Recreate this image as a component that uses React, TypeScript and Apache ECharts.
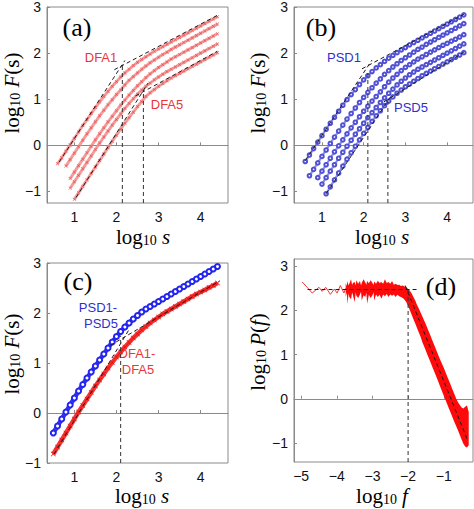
import React, { useEffect, useRef } from 'react';
import * as echarts from 'echarts';

// log10 s grid shared by every fluctuation curve
const logS = [
  0.5, 0.6, 0.7, 0.8, 0.9, 1.0, 1.1, 1.2, 1.3, 1.4, 1.5, 1.6, 1.7, 1.8, 1.9, 2.0, 2.1, 2.2, 2.3, 2.4,
  2.5, 2.6, 2.7, 2.8, 2.9, 3.0, 3.1, 3.2, 3.3, 3.4, 3.5, 3.6, 3.7, 3.8, 3.9, 4.0, 4.1, 4.2, 4.3, 4.4,
];

// (a) DFA1 ... DFA5
const dfa1 = [null, -0.40, -0.27, -0.13, 0.01, 0.15, 0.29, 0.43, 0.56, 0.69, 0.82, 0.94, 1.06, 1.17, 1.28, 1.38, 1.48, 1.57, 1.65, 1.73, 1.80, 1.86, 1.92, 1.98, 2.04, 2.09, 2.14, 2.19, 2.24, 2.29, 2.34, 2.39, 2.44, 2.49, 2.54, 2.59, 2.64, 2.69, 2.74, 2.79];
const dfa2 = [null, null, null, -0.45, -0.31, -0.17, -0.03, 0.11, 0.25, 0.38, 0.51, 0.64, 0.76, 0.88, 0.99, 1.10, 1.20, 1.31, 1.41, 1.49, 1.57, 1.65, 1.72, 1.79, 1.85, 1.91, 1.97, 2.02, 2.08, 2.13, 2.18, 2.23, 2.28, 2.33, 2.38, 2.43, 2.48, 2.53, 2.58, 2.63];
const dfa3 = [null, null, null, null, -0.72, -0.58, -0.44, -0.30, -0.16, -0.02, 0.12, 0.25, 0.38, 0.51, 0.63, 0.75, 0.87, 0.98, 1.09, 1.19, 1.29, 1.38, 1.47, 1.55, 1.62, 1.69, 1.75, 1.81, 1.87, 1.92, 1.97, 2.02, 2.07, 2.12, 2.17, 2.22, 2.27, 2.32, 2.37, 2.42];
const dfa4 = [null, null, null, null, -0.93, -0.79, -0.65, -0.51, -0.37, -0.23, -0.09, 0.05, 0.18, 0.31, 0.44, 0.56, 0.68, 0.80, 0.91, 1.01, 1.11, 1.20, 1.28, 1.35, 1.42, 1.48, 1.54, 1.60, 1.65, 1.70, 1.75, 1.80, 1.85, 1.90, 1.95, 2.00, 2.05, 2.10, 2.15, 2.20];
const dfa5 = [null, null, null, null, null, -1.17, -1.03, -0.89, -0.75, -0.61, -0.47, -0.33, -0.19, -0.05, 0.09, 0.22, 0.35, 0.48, 0.60, 0.72, 0.84, 0.95, 1.06, 1.14, 1.21, 1.28, 1.34, 1.40, 1.46, 1.51, 1.56, 1.61, 1.66, 1.71, 1.76, 1.81, 1.86, 1.91, 1.96, 2.01];

// (b) PSD1 ... PSD5
const psd1 = [null, -0.35, -0.21, -0.07, 0.07, 0.21, 0.35, 0.48, 0.61, 0.74, 0.87, 0.99, 1.10, 1.21, 1.32, 1.42, 1.51, 1.60, 1.68, 1.75, 1.82, 1.89, 1.95, 2.01, 2.07, 2.12, 2.18, 2.23, 2.28, 2.33, 2.38, 2.43, 2.48, 2.53, 2.58, 2.63, 2.68, 2.73, 2.78, 2.83];
const psd2 = [null, null, -0.66, -0.52, -0.38, -0.24, -0.10, 0.04, 0.18, 0.31, 0.44, 0.57, 0.69, 0.81, 0.93, 1.04, 1.15, 1.25, 1.35, 1.44, 1.54, 1.62, 1.70, 1.77, 1.84, 1.90, 1.96, 2.02, 2.08, 2.13, 2.19, 2.24, 2.29, 2.34, 2.39, 2.44, 2.49, 2.54, 2.59, 2.64];
const psd3 = [null, null, null, null, -0.70, -0.56, -0.42, -0.28, -0.14, -0.01, 0.12, 0.25, 0.38, 0.50, 0.62, 0.74, 0.85, 0.96, 1.06, 1.16, 1.27, 1.37, 1.46, 1.54, 1.62, 1.69, 1.75, 1.81, 1.87, 1.92, 1.97, 2.02, 2.07, 2.12, 2.17, 2.21, 2.26, 2.30, 2.35, 2.40];
const psd4 = [null, null, null, null, null, -0.84, -0.70, -0.56, -0.42, -0.28, -0.15, -0.02, 0.11, 0.24, 0.36, 0.48, 0.60, 0.71, 0.82, 0.93, 1.03, 1.13, 1.22, 1.31, 1.39, 1.46, 1.53, 1.59, 1.65, 1.70, 1.75, 1.80, 1.85, 1.90, 1.95, 2.00, 2.05, 2.10, 2.15, 2.20];
const psd5 = [null, null, null, null, null, null, -1.05, -0.90, -0.75, -0.60, -0.45, -0.30, -0.16, -0.02, 0.12, 0.26, 0.39, 0.52, 0.64, 0.75, 0.86, 0.96, 1.05, 1.13, 1.20, 1.27, 1.33, 1.39, 1.45, 1.51, 1.56, 1.61, 1.66, 1.71, 1.76, 1.81, 1.86, 1.91, 1.96, 2.01];

// (c) all five PSD curves and all five DFA curves collapsed
const psdAll = [-0.40, -0.26, -0.12, 0.02, 0.16, 0.30, 0.44, 0.57, 0.70, 0.82, 0.94, 1.06, 1.18, 1.30, 1.42, 1.53, 1.63, 1.72, 1.80, 1.88, 1.95, 2.02, 2.08, 2.13, 2.18, 2.23, 2.28, 2.33, 2.38, 2.43, 2.48, 2.53, 2.58, 2.63, 2.68, 2.73, 2.78, 2.83, 2.88, 2.93];
const dfaAll = [-0.82, -0.68, -0.54, -0.40, -0.26, -0.12, 0.02, 0.15, 0.28, 0.41, 0.54, 0.66, 0.78, 0.90, 1.01, 1.12, 1.22, 1.32, 1.41, 1.50, 1.58, 1.66, 1.73, 1.80, 1.86, 1.92, 1.98, 2.03, 2.08, 2.13, 2.18, 2.23, 2.28, 2.33, 2.38, 2.42, 2.46, 2.51, 2.55, 2.60];

// straight-line fits (endpoints) and crossover markers
const dfa1FitLeft = [[0.64, -0.36], [2.2, 1.84]];
const dfa1FitRight = [[1.95, 1.64], [4.4, 2.82]];
const dfa5FitLeft = [[1.04, -1.13], [2.75, 1.35]];
const dfa5FitRight = [[2.45, 1.07], [4.4, 2.04]];
const dfaCross = [[2.14, 1.75], [2.64, 1.2]];

const psd1FitLeft = [[0.6, -0.33], [2.2, 1.85]];
const psd1FitRight = [[1.96, 1.66], [4.4, 2.84]];
const psd5FitLeft = [[1.1, -1.05], [2.64, 1.05]];
const psd5FitRight = [[2.48, 0.94], [4.4, 2.02]];
const psdCross = [[2.1, 1.6], [2.58, 1.0]];

const allFitLeft = [[0.52, -0.82], [2.3, 1.67]];
const allFitRight = [[1.85, 1.35], [4.45, 2.64]];
const allCross = [[2.1, 1.55]];

// (d) power spectrum: sparse low-frequency points, then [log f, low, high] envelope
const spectrumLow = [
  [-4.97, 2.64], [-4.83, 2.52], [-4.69, 2.39], [-4.5, 2.52], [-4.41, 2.43], [-4.31, 2.52],
  [-4.18, 2.36], [-4.07, 2.48], [-3.99, 2.39], [-3.9, 2.56], [-3.8, 2.39], [-3.75, 2.5],
];
const spectrumBand = [
  [-3.75, 2.30, 2.62], [-3.72, 2.40, 2.55], [-3.70, 2.14, 2.66], [-3.67, 2.38, 2.56], [-3.65, 2.30, 2.60],
  [-3.60, 2.25, 2.70], [-3.57, 2.40, 2.57], [-3.55, 2.35, 2.62], [-3.50, 2.18, 2.64], [-3.47, 2.40, 2.56],
  [-3.45, 2.33, 2.68], [-3.40, 2.28, 2.60], [-3.35, 2.36, 2.66], [-3.32, 2.42, 2.56], [-3.30, 2.22, 2.62],
  [-3.25, 2.34, 2.70], [-3.20, 2.30, 2.63], [-3.17, 2.40, 2.58], [-3.15, 2.15, 2.66], [-3.10, 2.35, 2.61],
  [-3.05, 2.28, 2.68], [-3.00, 2.34, 2.62], [-2.97, 2.41, 2.57], [-2.95, 2.22, 2.65], [-2.90, 2.36, 2.60],
  [-2.85, 2.30, 2.67], [-2.80, 2.35, 2.62], [-2.75, 2.26, 2.64], [-2.70, 2.36, 2.60], [-2.65, 2.32, 2.70],
  [-2.60, 2.37, 2.62], [-2.55, 2.30, 2.64], [-2.50, 2.36, 2.60], [-2.45, 2.33, 2.66], [-2.40, 2.36, 2.58],
  [-2.35, 2.30, 2.60], [-2.30, 2.35, 2.57], [-2.25, 2.32, 2.58], [-2.20, 2.30, 2.55], [-2.15, 2.28, 2.56],
  [-2.10, 2.24, 2.54], [-2.05, 2.18, 2.52], [-2.00, 2.10, 2.48], [-1.95, 2.00, 2.44], [-1.90, 1.90, 2.38],
  [-1.85, 1.80, 2.30], [-1.80, 1.70, 2.22], [-1.75, 1.60, 2.12], [-1.70, 1.50, 2.04], [-1.65, 1.40, 1.95],
  [-1.60, 1.28, 1.86], [-1.55, 1.18, 1.77], [-1.50, 1.08, 1.68], [-1.45, 0.98, 1.58], [-1.40, 0.88, 1.48],
  [-1.35, 0.78, 1.38], [-1.30, 0.68, 1.28], [-1.25, 0.58, 1.18], [-1.20, 0.48, 1.08], [-1.15, 0.38, 0.98],
  [-1.10, 0.27, 0.88], [-1.05, 0.17, 0.79], [-1.00, 0.07, 0.70], [-0.95, -0.03, 0.60], [-0.90, -0.13, 0.50],
  [-0.85, -0.23, 0.40], [-0.80, -0.33, 0.30], [-0.75, -0.43, 0.20], [-0.70, -0.53, 0.10], [-0.65, -0.62, 0.00],
  [-0.60, -0.72, -0.08], [-0.55, -0.82, -0.14], [-0.50, -0.92, -0.20], [-0.45, -1.02, -0.22], [-0.40, -1.08, -0.18],
  [-0.35, -1.10, -0.15], [-0.30, -1.05, -0.30],
];
const spectrumFitFlat = [[-4.82, 2.47], [-1.7, 2.47]];
const spectrumFitSlope = [[-2.08, 2.56], [-0.35, -0.9]];
const spectrumCross = [[-2.0, 2.47]];

// axis ranges and tick values
const sTicks = [1, 2, 3, 4];
const fTicks = [-5, -4, -3, -2, -1];
const yTicks = [-1, 0, 1, 2, 3];
const rangeA = { x: [0.35, 4.65], y: [-1.25, 3] };
const rangeB = { x: [0.33, 4.62], y: [-1.25, 3] };
const rangeC = { x: [0.35, 4.65], y: [-1, 3] };
const rangeD = { x: [-5.2, -0.18], y: [-1.43, 3.16] };

const SANS = '"Liberation Sans", Arial, sans-serif';
const SERIF = '"Liberation Serif", "Times New Roman", serif';
const AXIS_GRAY = '#8a8a8a';
const CROSS = 'path://M1,0L5,4L9,0L10,1L6,5L10,9L9,10L5,6L1,10L0,9L4,5L0,1Z';

const pairs = (xs: number[], ys: (number | null)[]) =>
  xs.map((x, i) => (ys[i] == null ? null : [x, ys[i]])).filter(Boolean);

const tickFormatter = (v: number) => String(v).replace('-', '\u2212');

function makeXAxis(gi: number, r: number[], ticks: number[]) {
  return {
    type: 'value', gridIndex: gi, min: r[0], max: r[1],
    axisLine: { show: true, lineStyle: { color: AXIS_GRAY, width: 1 } },
    axisTick: { show: true, inside: true, length: 3, customValues: ticks, lineStyle: { color: AXIS_GRAY } },
    axisLabel: {
      show: true, customValues: ticks, margin: 7, fontFamily: SANS, fontSize: 14, color: '#111',
      formatter: tickFormatter,
    },
    splitLine: { show: false },
  };
}
function makeYAxis(gi: number, r: number[], ticks: number[]) {
  return {
    type: 'value', gridIndex: gi, min: r[0], max: r[1],
    axisLine: { show: true, lineStyle: { color: AXIS_GRAY, width: 1 } },
    axisTick: { show: true, inside: true, length: 3, customValues: ticks, lineStyle: { color: AXIS_GRAY } },
    axisLabel: {
      show: true, customValues: ticks, margin: 6, fontFamily: SANS, fontSize: 14, color: '#111',
      formatter: tickFormatter,
    },
    splitLine: { show: false },
  };
}

function crossSeries(gi: number, ys: (number | null)[], mark: string, line: string, size: number, width: number) {
  return {
    type: 'line', xAxisIndex: gi, yAxisIndex: gi, data: pairs(logS, ys),
    symbol: CROSS, symbolSize: size, showSymbol: true,
    itemStyle: { color: mark }, lineStyle: { color: line, width }, z: 2,
  };
}
function circleSeries(gi: number, ys: (number | null)[], mark: string, line: string, size: number, width: number) {
  return {
    type: 'line', xAxisIndex: gi, yAxisIndex: gi, data: pairs(logS, ys),
    symbol: 'emptyCircle', symbolSize: size, showSymbol: true,
    itemStyle: { color: mark, borderWidth: 1 }, lineStyle: { color: line, width }, z: 2,
  };
}
function dashed(gi: number, pts: number[][], color = '#1a1a1a') {
  return {
    type: 'line', xAxisIndex: gi, yAxisIndex: gi, data: pts, symbol: 'none',
    lineStyle: { color, width: 1, type: [4, 3] }, z: 4, silent: true,
  };
}
function dropLines(gi: number, pts: number[][], base: number) {
  return pts.map(([x, y]) => dashed(gi, [[x, base], [x, y]], '#333'));
}

const nameRich = {
  n: { fontFamily: SERIF, fontSize: 21, color: '#000' },
  s: { fontFamily: SERIF, fontSize: 14, color: '#000', verticalAlign: 'bottom', lineHeight: 8 },
  i: { fontFamily: SERIF, fontSize: 21, fontStyle: 'italic', color: '#000' },
};
const titleText = (x: number, y: number, text: string, vertical: boolean) => ({
  type: 'text', x, y, rotation: vertical ? Math.PI / 2 : 0,
  style: { text, rich: nameRich, align: 'center', verticalAlign: 'middle' },
});
const panelLetter = (x: number, y: number, text: string) => ({
  type: 'text', x, y,
  style: { text, fontFamily: SERIF, fontSize: 26, fill: '#000', align: 'center', verticalAlign: 'middle' },
});
const curveLabel = (x: number, y: number, text: string, fill: string) => ({
  type: 'text', x, y,
  style: { text, fontFamily: SANS, fontSize: 13, fill, align: 'center', verticalAlign: 'middle' },
});

const DFA_TEXT = '#e8363a';
const PSD_TEXT = '#2f2fd0';

export default function App() {
  const ref = useRef<HTMLDivElement>(null);
  useEffect(() => {
    if (!ref.current) return;
    const chart = echarts.init(ref.current, null, { renderer: 'svg' });
    const yLabelF = '{n|log}{s|10}{n| }{i|F}{n|(s)}';
    const xLabelS = '{n|log}{s|10}{n| }{i|s}';
    chart.setOption({
      animation: false,
      backgroundColor: '#fff',
      grid: [
        { left: 47, top: 4, width: 181, height: 199, show: true, borderColor: AXIS_GRAY, borderWidth: 1 },
        { left: 294, top: 4, width: 179, height: 199, show: true, borderColor: AXIS_GRAY, borderWidth: 1 },
        { left: 47, top: 263, width: 181, height: 200, show: true, borderColor: AXIS_GRAY, borderWidth: 1 },
        { left: 294, top: 259, width: 179, height: 203, show: true, borderColor: AXIS_GRAY, borderWidth: 1 },
      ],
      xAxis: [
        makeXAxis(0, rangeA.x, sTicks),
        makeXAxis(1, rangeB.x, sTicks),
        makeXAxis(2, rangeC.x, sTicks),
        makeXAxis(3, rangeD.x, fTicks),
      ],
      yAxis: [
        makeYAxis(0, rangeA.y, yTicks),
        makeYAxis(1, rangeB.y, yTicks),
        makeYAxis(2, rangeC.y, yTicks),
        makeYAxis(3, rangeD.y, yTicks),
      ],
      series: [
        // (a)
        ...[dfa1, dfa2, dfa3, dfa4, dfa5].map((ys) => crossSeries(0, ys, '#e94a4a', 'rgba(242,140,140,0.85)', 3.5, 3)),
        dashed(0, dfa1FitLeft), dashed(0, dfa1FitRight), dashed(0, dfa5FitLeft), dashed(0, dfa5FitRight),
        ...dropLines(0, dfaCross, rangeA.y[0]),
        // (b)
        ...[psd1, psd2, psd3, psd4, psd5].map((ys) => circleSeries(1, ys, '#5050d4', 'rgba(120,120,225,0.85)', 3.6, 2.2)),
        dashed(1, psd1FitLeft), dashed(1, psd1FitRight), dashed(1, psd5FitLeft), dashed(1, psd5FitRight),
        ...dropLines(1, psdCross, rangeB.y[0]),
        // (c)
        circleSeries(2, psdAll, '#2424f0', '#3434f2', 5, 4.5),
        crossSeries(2, dfaAll, '#e81010', 'rgba(244,40,40,0.95)', 5, 4.5),
        dashed(2, allFitLeft), dashed(2, allFitRight),
        ...dropLines(2, allCross, rangeC.y[0]),
        // (d)
        {
          type: 'line', xAxisIndex: 3, yAxisIndex: 3, data: spectrumLow, symbol: 'none',
          lineStyle: { color: '#f03a3a', width: 1 }, z: 2,
        },
        {
          type: 'custom', xAxisIndex: 3, yAxisIndex: 3, data: [[-2, 1]], z: 2,
          renderItem: (_p: any, api: any) => {
            const top = spectrumBand.map(([x, , hi]) => api.coord([x, hi]));
            const bottom = spectrumBand.slice().reverse().map(([x, lo]) => api.coord([x, lo]));
            return { type: 'polygon', shape: { points: top.concat(bottom) }, style: { fill: '#ff0a0a' } };
          },
        },
        dashed(3, spectrumFitFlat), dashed(3, spectrumFitSlope),
        ...dropLines(3, spectrumCross, rangeD.y[0]),
      ],
      graphic: [
        titleText(12, 93, yLabelF, true),
        titleText(143, 237, xLabelS, false),
        titleText(258, 93, yLabelF, true),
        titleText(382, 237, xLabelS, false),
        titleText(12, 354, yLabelF, true),
        titleText(142, 496, xLabelS, false),
        titleText(258, 352, '{n|log}{s|10}{n|\u2009}{i|P}{n|(}{i|f}{n|)}', true),
        titleText(382, 496, '{n|log}{s|10}{n| }{i|f}', false),
        panelLetter(77, 27, '(a)'),
        panelLetter(321, 27, '(b)'),
        panelLetter(78, 281, '(c)'),
        panelLetter(441, 286, '(d)'),
        curveLabel(101, 57, 'DFA1', DFA_TEXT),
        curveLabel(167, 104, 'DFA5', DFA_TEXT),
        curveLabel(344, 57, 'PSD1', PSD_TEXT),
        curveLabel(411, 107, 'PSD5', PSD_TEXT),
        curveLabel(98, 307, 'PSD1-', PSD_TEXT),
        curveLabel(101, 323, 'PSD5', PSD_TEXT),
        curveLabel(137, 353, 'DFA1-', DFA_TEXT),
        curveLabel(138, 369, 'DFA5', DFA_TEXT),
      ],
    });
    return () => chart.dispose();
  }, []);
  return (
    <div style={{ position: 'absolute', left: 0, top: 0, width: 474, height: 509, background: '#fff' }}>
      <div ref={ref} style={{ width: 474, height: 509 }} />
    </div>
  );
}
